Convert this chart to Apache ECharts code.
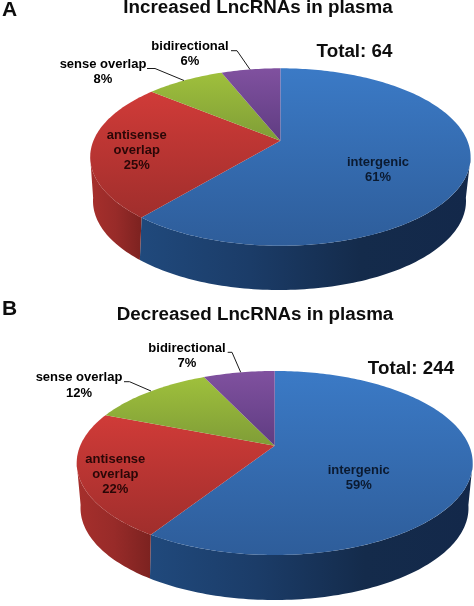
<!DOCTYPE html>
<html><head><meta charset="utf-8">
<style>html,body{margin:0;padding:0;background:#fff}#c{width:474px;height:606px}</style>
<script src="https://cdn.jsdelivr.net/npm/echarts@6/dist/echarts.min.js"></script>
</head><body><div id="c"></div>
<script>
const categories = ['intergenic', 'antisense overlap', 'sense overlap', 'bidirectional'];
const valuesA = [61, 25, 8, 6];
const valuesB = [59, 22, 12, 7];
const titleA = 'Increased LncRNAs in plasma';
const titleB = 'Decreased LncRNAs in plasma';
const totalA = 64;
const totalB = 244;

const topColors = [['#3b7ac6','#2e5d9a'],['#d03b38','#a02e2c'],['#9fc03c','#7f9d37'],['#80519f','#5f3c82']];
const sideColors = [['#20497c','#1b3c68','#142b4b','#13284a'],['#a62f2c','#982b29','#7c2220'],['#666','#666'],['#666','#666']];
const textColors = ['#0b1a30','#2a0707','#000','#000'];

const panelA = {
  values: valuesA,
  top: {cx:280.4, cy:157, rx:190.2, ry:88.7},
  bot: {cx:279.5, cy:201, rx:186.5, ry:89},
  a: -0.184, botA: -0.22,
  labels: [[378,170],[136.7,150.7],[103,72],[190,54]],
  leaders: [[[147,68.5],[155,68.5],[184,80.5]],[[231,50.7],[237,50.7],[250,69.5]]]
};
const panelB = {
  values: valuesB,
  top: {cx:274.7, cy:463, rx:198, ry:92},
  bot: {cx:274.5, cy:508, rx:194, ry:92},
  a: -0.188, botA: -0.22,
  labels: [[358.7,478],[115.3,474.3],[79,385.5],[187,356]],
  leaders: [[[124,381.7],[129.5,381.7],[151,391]],[[227.7,352.3],[232,352.3],[240.7,372.3]]]
};

function project(e, a, t) {
  const v = Math.sin(t), u = -Math.cos(t), d = 1 + a * u;
  return [e.cx + e.rx * v * Math.sqrt(1 - a * a) / d, e.cy + e.ry * (u + a) / d];
}
function pivot(p) { return [p.top.cx, p.top.cy + p.top.ry * p.a]; }
function arc(e, a, t0, t1) {
  const n = Math.max(2, Math.ceil(Math.abs(t1 - t0) / 0.02)), out = [];
  for (let i = 0; i <= n; i++) out.push(project(e, a, t0 + (t1 - t0) * i / n));
  return out;
}
function bounds(values, i) {
  const sum = values.reduce((s, v) => s + v, 0);
  let c = 0;
  for (let k = 0; k < i; k++) c += values[k];
  return [c / sum * 2 * Math.PI, (c + values[i]) / sum * 2 * Math.PI];
}
function grad(x0, y0, x1, y1, cols) {
  return {type:'linear', x:x0, y:y0, x2:x1, y2:y1,
    colorStops: cols.map((c, i) => ({offset: i / (cols.length - 1), color: c}))};
}
function sideSeries(p) {
  return {
    type:'custom', coordinateSystem:'none', silent:true, z:1,
    data: p.values.map(v => [v]),
    renderItem(params) {
      const [t0, t1] = bounds(p.values, params.dataIndex);
      const sR = Math.acos(p.a), sL = 2 * Math.PI - sR;
      const s = Math.max(t0, sR), e = Math.min(t1, sL);
      if (e <= s) return {type:'group', children:[]};
      const pts = arc(p.top, p.a, s, e).concat(arc(p.bot, p.botA, e, s));
      return {type:'polygon', shape:{points:pts},
        style:{fill: grad(0,0,1,0, sideColors[params.dataIndex]), stroke:'none'}};
    }
  };
}
function topSeries(p) {
  return {
    type:'custom', coordinateSystem:'none', silent:true, z:2,
    data: p.values.map(v => [v]),
    renderItem(params, api) {
      const i = params.dataIndex, val = api.value(0);
      const [t0, t1] = bounds(p.values, i);
      const pts = [pivot(p)].concat(arc(p.top, p.a, t0, t1));
      const name = categories[i].replace('antisense overlap', 'antisense\noverlap');
      const [lx, ly] = p.labels[i];
      return {type:'group', children:[
        {type:'polygon', shape:{points:pts},
          style:{fill: grad(0,0,0,1, topColors[i]), stroke:'none'}},
        {type:'text', z2:10, style:{x:lx, y:ly, text: name + '\n' + val + '%', align:'center', verticalAlign:'middle',
          font:'bold 13px "Liberation Sans"', lineHeight:15.2, fill:textColors[i]}}
      ]};
    }
  };
}
function leaderSeries(p) {
  return {
    type:'custom', coordinateSystem:'none', silent:true, z:3,
    data: p.leaders.map((l, i) => [i]),
    renderItem(params) {
      return {type:'polyline', shape:{points:p.leaders[params.dataIndex]},
        style:{stroke:'#1a1a1a', lineWidth:1, fill:'none'}};
    }
  };
}
const chart = echarts.init(document.getElementById('c'), null, {renderer:'canvas'});
const bigFont = 'bold 18.8px "Liberation Sans"', letterFont = 'bold 21px "Liberation Sans"';
const heading = (x, y, text, font) => ({type:'text', x, y, z:5, style:{text, font, fill:'#0d0d0d', align:'center', verticalAlign:'middle'}});
chart.setOption({
  animation:false,
  backgroundColor:'#fff',
  graphic:[
    heading(258, 8, titleA, bigFont),
    heading(9.5, 10, 'A', letterFont),
    heading(354.5, 52, 'Total: '+totalA, bigFont),
    heading(255, 315, titleB, bigFont),
    heading(9.5, 309, 'B', letterFont),
    heading(411, 369, 'Total: '+totalB, bigFont)
  ],
  series:[sideSeries(panelA), topSeries(panelA), leaderSeries(panelA),
          sideSeries(panelB), topSeries(panelB), leaderSeries(panelB)]
});
</script></body></html>
